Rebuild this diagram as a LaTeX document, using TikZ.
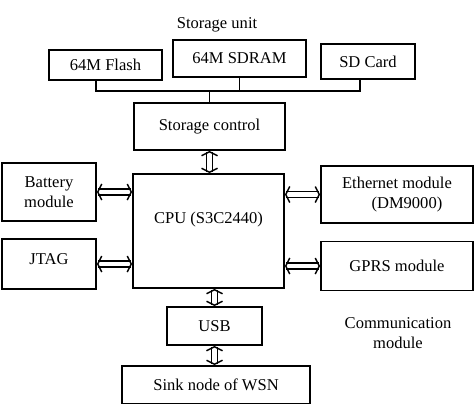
\documentclass[tikz,border=0pt]{standalone}
\usepackage{fontspec}
\setmainfont{Liberation Serif}
\usetikzlibrary{arrows.meta}

\tikzset{
  box/.style={draw,line width=1.4pt,inner sep=2pt,align=center},
  bus/.style={line width=1.1pt},
  link/.style={double,double distance=3.4pt,line width=1.1pt,
    {Straight Barb[length=3pt,width=12pt]}-{Straight Barb[length=3pt,width=12pt]}}
}

\begin{document}
\begin{tikzpicture}[x=0.75pt,y=-0.75pt,font=\fontsize{12.4}{14.9}\selectfont]
\useasboundingbox (0,0) rectangle (474,403);

\node (unit) at (217,25) {Storage unit};
\node[box,minimum width=84.75pt,minimum height=22.5pt] (flash) at (105.5,65) {64M Flash};
\node[box,minimum width=99.75pt,minimum height=27.75pt] (sdram) at (239.5,58.5) {64M SDRAM};
\node[box,minimum width=70.5pt,minimum height=26.25pt] (sdcard) at (368,61.5) {SD Card};

\coordinate (busl) at (96,91);
\coordinate (busr) at (360,91);
\draw[bus] (flash.south -| busl) -- (busl) -- (busr) -- (sdcard.south -| busr);
\draw[bus] (sdram.south) -- (sdram.south |- busl);

\node[box,minimum width=113.25pt,minimum height=35.25pt] (storctl) at (209.5,126.5) {Storage control};
\draw[bus] (storctl.north) -- (storctl.north |- busl);

\node[box,minimum width=113.25pt,minimum height=85.5pt,text depth=20pt] (cpu) at (208.5,231) {CPU (S3C2440)};

\node[box,minimum width=70.5pt,minimum height=43.5pt] (battery) at (49,192) {Battery\\module};
\node[box,minimum width=70.5pt,minimum height=37.5pt,text depth=8pt] (jtag) at (49,264) {JTAG};

\node[box,minimum width=114pt,minimum height=42.75pt] (ether) at (397,194.5) {Ethernet module\\\hspace*{1.2em}(DM9000)};
\node[box,minimum width=114pt,minimum height=36.75pt] (gprs) at (397,266) {GPRS module};
\node[align=center] (comm) at (398,333) {Communication\\module};

\node[box,minimum width=71.25pt,minimum height=28.5pt] (usb) at (214.5,326) {USB};
\node[box,minimum width=141pt,minimum height=28.5pt] (sink) at (216,385) {Sink node of WSN};

\draw[link] (storctl.south) -- (cpu.north -| storctl.south);
\draw[link] (battery.east) -- (cpu.west |- battery.east);
\draw[link] (jtag.east) -- (cpu.west |- jtag.east);
\draw[link] (cpu.east |- ether.west) -- (ether.west);
\draw[link] (cpu.east |- gprs.west) -- (gprs.west);
\draw[link] (cpu.south -| usb.north) -- (usb.north);
\draw[link] (usb.south) -- (sink.north -| usb.south);
\end{tikzpicture}
\end{document}
